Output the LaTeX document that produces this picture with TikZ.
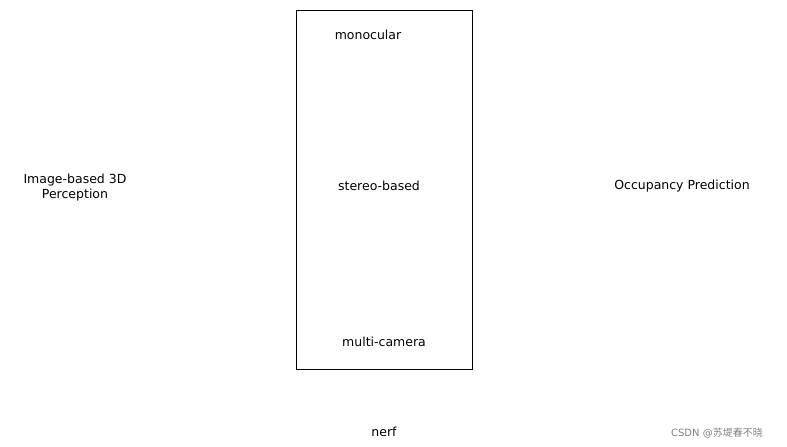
\documentclass[tikz,border=0pt]{standalone}
\usepackage{fontspec}
\setmainfont{DejaVu Sans}
\newfontfamily\cjk{Noto Sans CJK SC}
\begin{document}
\begin{tikzpicture}[x=1pt,y=-1pt,
  lbl/.style={inner sep=0pt,font=\fontsize{12.5}{15}\selectfont,align=center}]
\useasboundingbox (0,0) rectangle (787,447);
\node[draw,line width=0.9pt,minimum width=176pt,minimum height=359pt,inner sep=0pt] (box) at (384,189.5) {};
\node[lbl] (mono) at (368,35) {monocular};
\node[lbl] (stereo) at (379,186) {stereo-based};
\node[lbl] (multi) at (384,342) {multi-camera};
\node[lbl] (img) at (75,188) {Image-based 3D\\Perception};
\node[lbl] (occ) at (682,186) {Occupancy Prediction};
\node[lbl] (nerf) at (384,432) {nerf};
\node[inner sep=0pt,font=\fontsize{10}{12}\selectfont,text=gray] (wm) at (717,433) {CSDN @{\cjk 苏堤春不晓}};
\end{tikzpicture}
\end{document}
